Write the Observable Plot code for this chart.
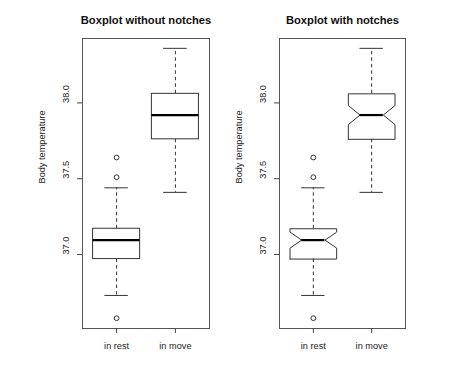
<!DOCTYPE html>
<html>
<head>
<meta charset="utf-8">
<script src="https://cdn.jsdelivr.net/npm/d3@7"></script>
<script src="https://cdn.jsdelivr.net/npm/@observablehq/plot@0.6"></script>
<style>
  html, body { margin: 0; padding: 0; background: white; }
  #wrap { display: flex; width: 474px; height: 372px; }
</style>
</head>
<body>
<div id="wrap"></div>
<script>
// ---- data ----
const groups = ["in rest", "in move"];
const q1 = [36.97, 37.76];
const median = [37.095, 37.92];
const q3 = [37.17, 38.06];
const whiskerLo = [36.73, 37.41];
const whiskerHi = [37.44, 38.36];
const notchHalf = [0.053, 0.063];
const outlierGroup = ["in rest", "in rest", "in rest"];
const outlierValue = [37.64, 37.51, 36.58];
const yTicks = [37.0, 37.5, 38.0];
const titles = ["Boxplot without notches", "Boxplot with notches"];
const yLabel = "Body temperature";

const idx = groups.map((_, i) => i);
const pos = i => i + 1;
const boxHalf = 0.4, capHalf = 0.2, notchInset = 0.2;
const outliers = outlierValue.map((v, k) => ({x: groups.indexOf(outlierGroup[k]) + 1, y: v}));

const lineColor = "#333";
const textColor = "#222";

function notchPath(i) {
  const c = pos(i), m = median[i], lo = m - notchHalf[i], hi = m + notchHalf[i];
  return [
    [c - boxHalf, q1[i]], [c - boxHalf, lo], [c - notchInset, m], [c - boxHalf, hi], [c - boxHalf, q3[i]],
    [c + boxHalf, q3[i]], [c + boxHalf, hi], [c + notchInset, m], [c + boxHalf, lo], [c + boxHalf, q1[i]],
    [c - boxHalf, q1[i]]
  ].map(([x, y]) => ({x, y, g: groups[i]}));
}

function panel(title, notched, marginLeft, marginRight) {
  const boxMarks = notched
    ? [
        Plot.line(idx.flatMap(notchPath), {x: "x", y: "y", z: "g", stroke: lineColor, strokeWidth: 1}),
        Plot.ruleY(idx, {y: i => median[i], x1: i => pos(i) - notchInset, x2: i => pos(i) + notchInset, stroke: "#000", strokeWidth: 2.2})
      ]
    : [
        Plot.rect(idx, {x1: i => pos(i) - boxHalf, x2: i => pos(i) + boxHalf, y1: i => q1[i], y2: i => q3[i], fill: "white", stroke: lineColor, strokeWidth: 1}),
        Plot.ruleY(idx, {y: i => median[i], x1: i => pos(i) - boxHalf, x2: i => pos(i) + boxHalf, stroke: "#000", strokeWidth: 2.2})
      ];
  return Plot.plot({
    width: 237,
    height: 372,
    marginLeft,
    marginRight,
    marginTop: 38,
    marginBottom: 44,
    style: {fontFamily: "'Liberation Sans', Arial, sans-serif", background: "white", overflow: "visible"},
    x: {domain: [0.42, 2.58]},
    y: {domain: [36.512, 38.425]},
    marks: [
      // whiskers
      Plot.ruleX(idx, {x: pos, y1: i => q3[i], y2: i => whiskerHi[i], stroke: lineColor, strokeDasharray: "3.5,3"}),
      Plot.ruleX(idx, {x: pos, y1: i => q1[i], y2: i => whiskerLo[i], stroke: lineColor, strokeDasharray: "3.5,3"}),
      Plot.ruleY(idx, {y: i => whiskerHi[i], x1: i => pos(i) - capHalf, x2: i => pos(i) + capHalf, stroke: lineColor}),
      Plot.ruleY(idx, {y: i => whiskerLo[i], x1: i => pos(i) - capHalf, x2: i => pos(i) + capHalf, stroke: lineColor}),
      ...boxMarks,
      Plot.dot(outliers, {x: "x", y: "y", r: 2.4, stroke: lineColor, fill: "none", strokeWidth: 1}),
      Plot.frame({stroke: "#555", strokeWidth: 1}),
      // axes
      Plot.axisX({ticks: idx.map(pos), tickFormat: d => groups[d - 1], tickSize: 5, tickPadding: 9, fontSize: 9.2, stroke: "#444", fill: textColor, label: null}),
      Plot.axisY({ticks: yTicks, tickSize: 5, tickFormat: () => "", stroke: "#444", label: null}),
      Plot.text(yTicks, {y: d => d, text: d => d3.format(".1f")(d), frameAnchor: "left", dx: -16.7, rotate: -90, fontSize: 9.2, fill: textColor}),
      Plot.text([yLabel], {frameAnchor: "left", dx: -40, rotate: -90, fontSize: 9.2, fill: textColor}),
      Plot.text([title], {frameAnchor: "top", dy: -22, fontSize: 11.2, fontWeight: "bold", fill: "#111"})
    ]
  });
}

const wrap = document.getElementById("wrap");
wrap.appendChild(panel(titles[0], false, 82, 28));
wrap.appendChild(panel(titles[1], true, 42, 69));
</script>
</body>
</html>
